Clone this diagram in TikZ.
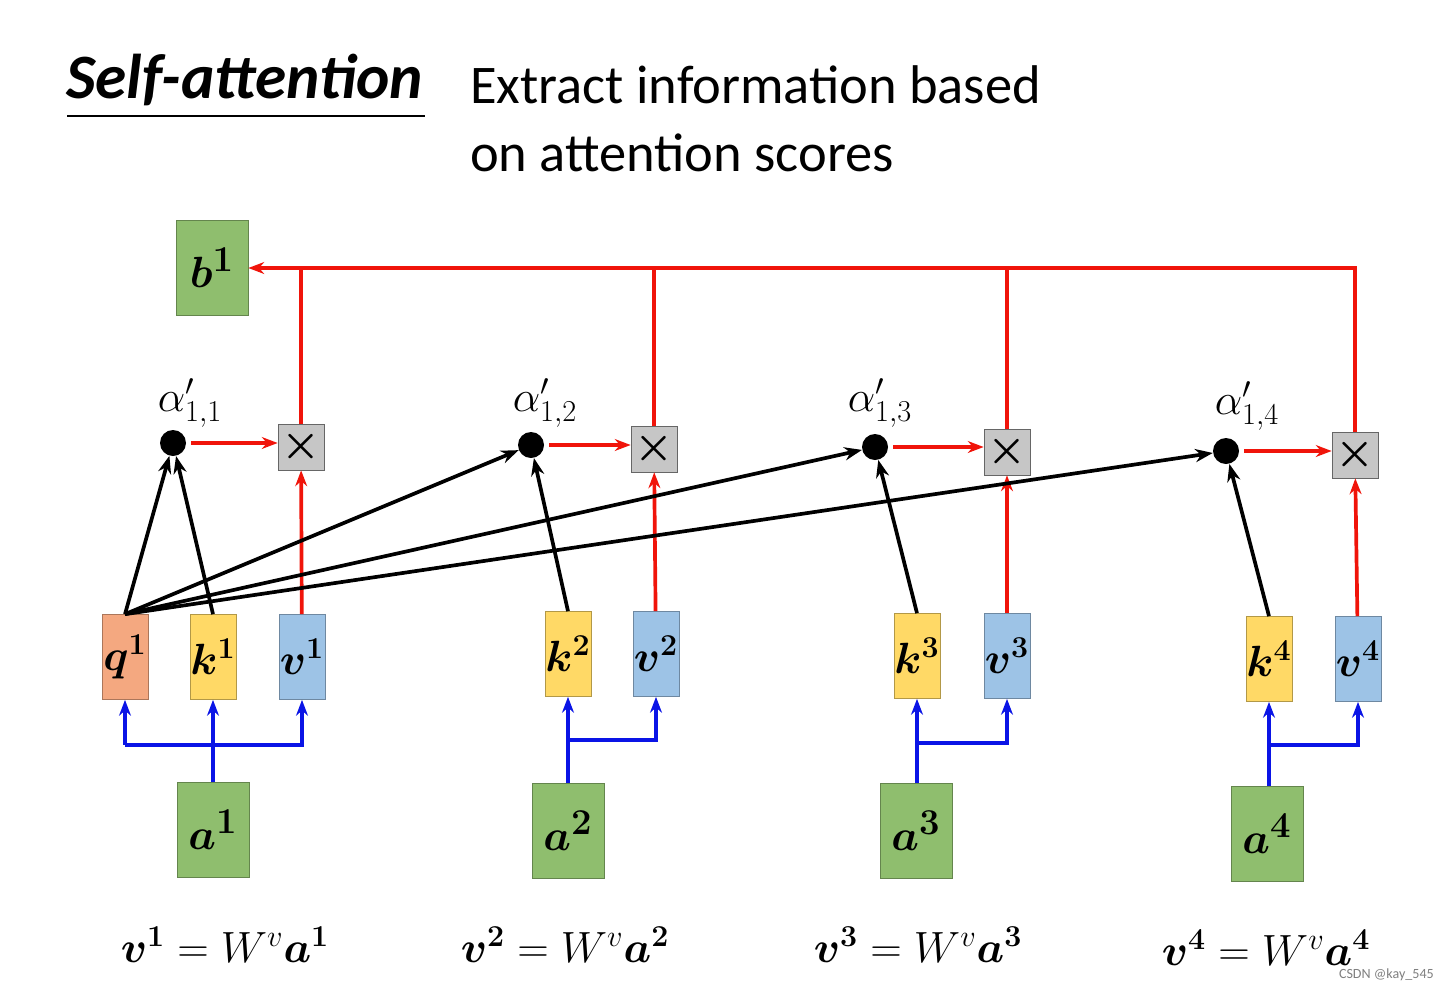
\documentclass[tikz,border=0pt]{standalone}
\usepackage{fontspec}
\usepackage{amsmath,bm}
\setmainfont{Carlito}
\usetikzlibrary{arrows.meta}
\begin{document}
\begin{tikzpicture}[x=0.02cm,y=-0.02cm,
  box/.style={draw=#1!70!black,fill=#1,minimum width=46*0.02cm,minimum height=85*0.02cm,inner sep=0pt,font=\fontsize{27}{27}\selectfont\boldmath},
  abox/.style={draw=gA!70!black,fill=gA,minimum width=72*0.02cm,minimum height=95*0.02cm,inner sep=0pt,font=\fontsize{29}{29}\selectfont\boldmath},
  xbox/.style={draw=gray!80!black,fill=gray!45,minimum size=46*0.02cm,inner sep=0pt},
  dot/.style={circle,fill=black,minimum size=26*0.02cm,inner sep=0pt},
  red/.style={draw={rgb,255:red,240;green,20;blue,10},line width=2.1pt,-{Stealth[length=9pt]}},
  blu/.style={draw={rgb,255:red,10;green,20;blue,230},line width=2.1pt},
  blk/.style={draw=black,line width=2.1pt,-{Stealth[length=10pt]}},
  lab/.style={font=\fontsize{23}{23}\selectfont},
  eq/.style={font=\fontsize{25}{25}\selectfont}]
\definecolor{gA}{RGB}{143,190,110}
\definecolor{oQ}{RGB}{244,168,128}
\definecolor{yK}{RGB}{255,217,102}
\definecolor{bV}{RGB}{157,195,230}
\useasboundingbox[fill=white] (0,0) rectangle (1451,991);
% title
\node[anchor=west,font=\fontsize{36}{36}\selectfont\bfseries\itshape] (t) at (60,80) {Self-attention};
\draw[line width=1.2pt] (67,116) -- (425,116);
\node[anchor=west,align=left,font=\fontsize{31}{39}\selectfont] (st) at (464,119) {Extract information based\\on attention scores};
% boxes
\node[abox] (b1) at (212,268) {$\bm{b}^1$};
\node[box=oQ] (q1) at (125,657) {$\bm{q}^1$};
\node[box=yK] (k1) at (213,657) {$\bm{k}^1$};
\node[box=bV] (v1) at (302,657) {$\bm{v}^1$};
\node[box=yK] (k2) at (568,654) {$\bm{k}^2$};
\node[box=bV] (v2) at (656,654) {$\bm{v}^2$};
\node[box=yK] (k3) at (917,656) {$\bm{k}^3$};
\node[box=bV] (v3) at (1007,656) {$\bm{v}^3$};
\node[box=yK] (k4) at (1269,659) {$\bm{k}^4$};
\node[box=bV] (v4) at (1358,659) {$\bm{v}^4$};
\node[abox] (a1) at (213,830) {$\bm{a}^1$};
\node[abox] (a2) at (568,831) {$\bm{a}^2$};
\node[abox] (a3) at (916,831) {$\bm{a}^3$};
\node[abox] (a4) at (1267,834) {$\bm{a}^4$};
% dots and x
\node[dot] (d1) at (173,443) {};
\node[dot] (d2) at (531,445) {};
\node[dot] (d3) at (875,447) {};
\node[dot] (d4) at (1226,451) {};
\node[lab] (l1) at (190,403) {$\alpha'_{1,1}$};
\node[lab] (l2) at (545,403) {$\alpha'_{1,2}$};
\node[lab] (l3) at (880,403) {$\alpha'_{1,3}$};
\node[lab] (l4) at (1247,406) {$\alpha'_{1,4}$};
\node[xbox] (x1) at (301,447) {\fontsize{34}{34}\selectfont$\bm\times$};
\node[xbox] (x2) at (654,449) {\fontsize{34}{34}\selectfont$\bm\times$};
\node[xbox] (x3) at (1007,452) {\fontsize{34}{34}\selectfont$\bm\times$};
\node[xbox] (x4) at (1355,455) {\fontsize{34}{34}\selectfont$\bm\times$};
% red
\foreach \i in {1,2,3,4}{
  \draw[red] (d\i) ++(18,0) -- (d\i -| x\i.west);
  \draw[red] (v\i) -- (x\i);
}
\coordinate (r4) at (1355,268);
\draw[red] (x4.north) -- (r4) -- (b1.east);
\draw[red,-] (x1.north) -- (x1.north |- r4);
\draw[red,-] (x2.north) -- (x2.north |- r4);
\draw[red,-] (x3.north) -- (x3.north |- r4);
% black
\draw[blk] (q1.north) -- (d1);
\draw[blk] (k1.north) -- (d1);
\draw[blk] (q1.north) -- (d2);
\draw[blk] (q1.north) -- (d3);
\draw[blk] (q1.north) -- (d4);
\draw[blk] (k2.north) -- (d2);
\draw[blk] (k3.north) -- (d3);
\draw[blk] (k4.north) -- (d4);
% blue
\draw[blu,-{Stealth[length=9pt]}] (a1.north) -- (k1.south);
\draw[blu,-{Stealth[length=9pt]}] (q1.south) ++(0,45) coordinate (c1) -- (q1.south);
\draw[blu,-{Stealth[length=9pt]}] (c1) -- (c1 -| v1) -- (v1.south);
\foreach \i/\y in {2/740,3/743,4/745}{
  \draw[blu,-{Stealth[length=9pt]}] (a\i.north -| k\i) -- (k\i.south);
  \draw[blu,-{Stealth[length=9pt]}] (k\i.south |- 0,\y) -- (v\i.south |- 0,\y) -- (v\i.south);
}
% equations
\node[eq] (e1) at (225,945) {$\bm{v}^{\bm 1}=W^v\bm{a}^{\bm 1}$};
\node[eq] (e2) at (565,945) {$\bm{v}^{\bm 2}=W^v\bm{a}^{\bm 2}$};
\node[eq] (e3) at (918,945) {$\bm{v}^{\bm 3}=W^v\bm{a}^{\bm 3}$};
\node[eq] (e4) at (1266,948) {$\bm{v}^{\bm 4}=W^v\bm{a}^{\bm 4}$};
\node[anchor=east,font=\fontsize{8}{8}\selectfont,text=gray] (w) at (1440,975) {CSDN @kay\_545};
\end{tikzpicture}
\end{document}
